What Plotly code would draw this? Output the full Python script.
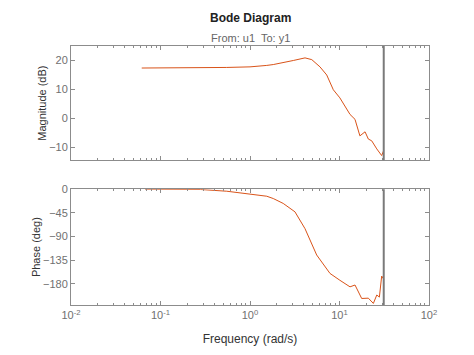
import plotly.graph_objects as go

# Frequency response data
freq = [0.0617, 0.1, 0.3, 0.55, 1.0, 1.3, 1.54, 1.82, 2.35, 3.05, 4.12, 4.9, 6.05, 7.2, 8.53, 10.1, 13.1, 14.9, 16.9, 19.3, 21.0, 22.9, 26.1, 29.6, 31.2]
mag_db = [17.4, 17.4, 17.5, 17.6, 17.8, 18.0, 18.3, 18.6, 19.2, 20.0, 20.9, 20.3, 17.8, 15.0, 9.9, 7.1, 1.4, -0.3, -6.0, -4.6, -7.1, -7.7, -10.5, -12.8, -11.0]

ph_freq = [0.0671, 0.1, 0.279, 0.55, 1.0, 1.54, 1.82, 2.35, 3.18, 4.12, 5.56, 7.83, 10.1, 13.1, 14.9, 17.7, 21.0, 23.9, 26.1, 27.9, 29.6, 31.2]
phase_deg = [0.0, 0.0, -0.5, -3.8, -9.5, -13.3, -17.7, -27.0, -43.0, -75.0, -125.0, -160.0, -173.0, -185.5, -182.0, -207.6, -207.0, -217.0, -201.0, -205.0, -165.0, -171.0]

nyquist = 31.2
mag_range = [-14.4, 25]
phase_range = [-220, 0]
mag_ticks = [-10, 0, 10, 20]
phase_ticks = [-180, -135, -90, -45, 0]
x_tickvals = [0.01, 0.1, 1, 10, 100]
x_ticktext = ["10<sup>-2</sup>", "10<sup>-1</sup>", "10<sup>0</sup>", "10<sup>1</sup>", "10<sup>2</sup>"]
x_minor_ticks = [m * d for d in (0.01, 0.1, 1, 10) for m in (2, 3, 4, 5, 6, 7, 8, 9)]

line_color = "#D95319"
axis_color = "#8c8c8c"
label_color = "#707070"
font_family = "Liberation Sans, Arial, sans-serif"

fig = go.Figure()
fig.add_trace(go.Scatter(x=freq, y=mag_db, mode="lines", line=dict(color=line_color, width=1),
                         xaxis="x", yaxis="y", showlegend=False))
fig.add_trace(go.Scatter(x=ph_freq, y=phase_deg, mode="lines", line=dict(color=line_color, width=1),
                         xaxis="x2", yaxis="y2", showlegend=False))

# Nyquist frequency markers as vertical lines spanning each panel
fig.add_shape(type="line", xref="x", yref="y domain", x0=nyquist, x1=nyquist, y0=0, y1=1,
              line=dict(color="#7a7a7a", width=2))
fig.add_shape(type="line", xref="x2", yref="y2 domain", x0=nyquist, x1=nyquist, y0=0, y1=1,
              line=dict(color="#7a7a7a", width=2))

common_x = dict(type="log", range=[-2, 2], showline=True, linecolor=axis_color, linewidth=1,
                mirror="ticks", ticks="inside", ticklen=4, tickcolor=axis_color,
                showgrid=False, zeroline=False, automargin=False,
                tickmode="array", tickvals=x_tickvals,
                minor=dict(tickmode="array", tickvals=x_minor_ticks, ticks="inside", ticklen=2,
                           tickcolor=axis_color, showgrid=False),
                tickfont=dict(size=10, color=label_color, family=font_family))

common_y = dict(showline=True, linecolor=axis_color, linewidth=1, mirror="ticks", ticks="inside",
                ticklen=4, tickcolor=axis_color, showgrid=False, zeroline=False, automargin=False,
                tickfont=dict(size=11, color=label_color, family=font_family))

fig.update_layout(
    width=474, height=355,
    margin=dict(l=71, r=45, t=46, b=50),
    paper_bgcolor="white", plot_bgcolor="white",
    font=dict(family=font_family, size=10, color=label_color),
    xaxis=dict(common_x, anchor="y", showticklabels=False),
    xaxis2=dict(common_x, anchor="y2", ticktext=x_ticktext, showticklabels=True,
                tickfont=dict(size=11, color=label_color, family=font_family),
                title=dict(text="Frequency (rad/s)", font=dict(size=12, color="#333333"), standoff=14)),
    yaxis=dict(common_y, domain=[0.559, 1.0], range=mag_range, tickvals=mag_ticks,
               title=dict(text="Magnitude (dB)", font=dict(size=11, color="#333333"), standoff=0)),
    yaxis2=dict(common_y, domain=[0.0, 0.447], range=phase_range, tickvals=phase_ticks,
                title=dict(text="Phase (deg)", font=dict(size=11, color="#333333"), standoff=0)),
    annotations=[
        dict(text="<b>Bode Diagram</b>", x=0.5, xref="paper", y=1, yref="paper",
             yanchor="bottom", yshift=19, showarrow=False, font=dict(size=12, color="#222222")),
        dict(text="From: u1  To: y1", x=0.5, xref="paper", y=1, yref="paper",
             yanchor="bottom", yshift=0, showarrow=False, font=dict(size=11, color="#666666")),
    ],
)

fig.write_html("out.html", config={"displayModeBar": False},
               post_script="document.body.style.margin='0';document.body.style.overflow='hidden';")
